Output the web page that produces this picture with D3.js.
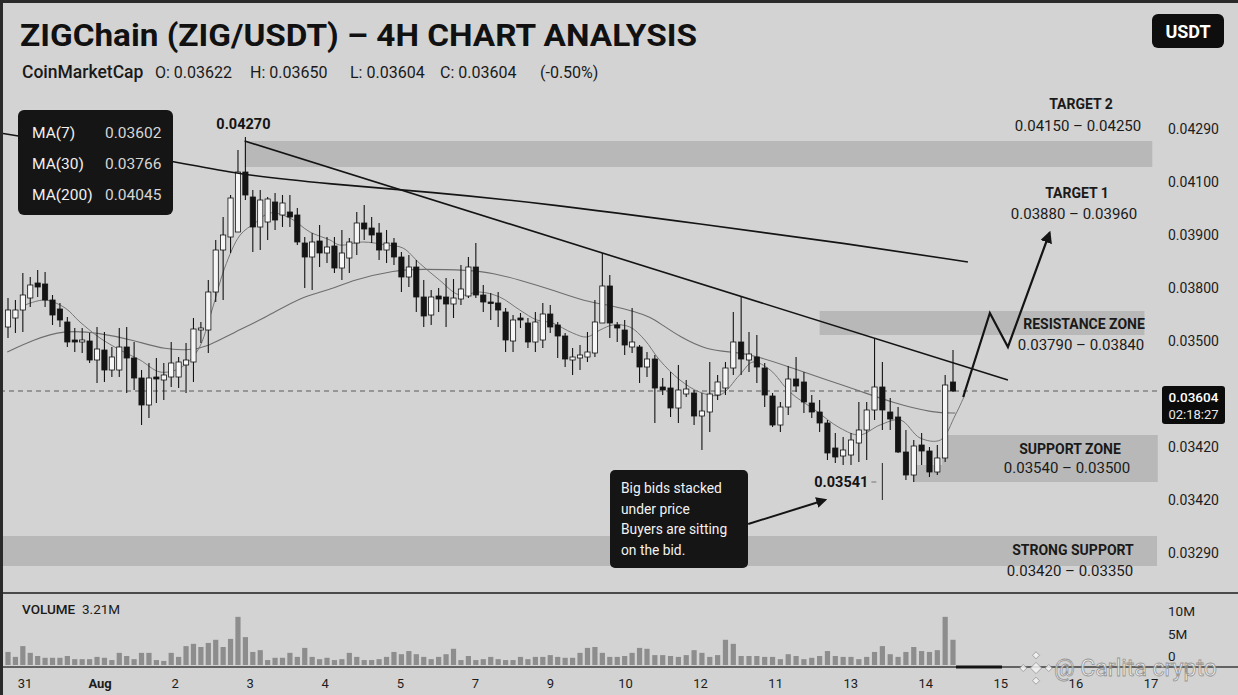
<!DOCTYPE html>
<html>
<head>
<meta charset="utf-8">
<script src="https://cdn.jsdelivr.net/npm/d3@7"></script>
<style>
  html, body { margin: 0; padding: 0; background: #d3d3d3; }
  svg { display: block; font-family: Roboto, "Noto Sans", sans-serif; }
</style>
</head>
<body>
<svg id="chart" width="1238" height="695"></svg>
<script>
// 4H candles, [open, high, low, close]
const ohlc = [
  [0.03732, 0.03790, 0.03710, 0.03766], [0.03750, 0.03786, 0.03720, 0.03766],
  [0.03766, 0.03840, 0.03722, 0.03796], [0.03790, 0.03832, 0.03772, 0.03816],
  [0.03820, 0.03846, 0.03792, 0.03812], [0.03818, 0.03842, 0.03772, 0.03786],
  [0.03786, 0.03796, 0.03736, 0.03756], [0.03768, 0.03780, 0.03732, 0.03746],
  [0.03742, 0.03752, 0.03692, 0.03702], [0.03706, 0.03730, 0.03682, 0.03702],
  [0.03702, 0.03730, 0.03680, 0.03706], [0.03704, 0.03720, 0.03660, 0.03666],
  [0.03666, 0.03732, 0.03620, 0.03688], [0.03686, 0.03722, 0.03622, 0.03646],
  [0.03646, 0.03692, 0.03632, 0.03672], [0.03646, 0.03730, 0.03632, 0.03692],
  [0.03692, 0.03732, 0.03600, 0.03670], [0.03670, 0.03702, 0.03606, 0.03630],
  [0.03630, 0.03646, 0.03536, 0.03576], [0.03576, 0.03660, 0.03550, 0.03630],
  [0.03632, 0.03670, 0.03580, 0.03628], [0.03626, 0.03660, 0.03586, 0.03636],
  [0.03632, 0.03702, 0.03612, 0.03660], [0.03632, 0.03672, 0.03610, 0.03662],
  [0.03656, 0.03700, 0.03600, 0.03666], [0.03662, 0.03750, 0.03622, 0.03728],
  [0.03726, 0.03742, 0.03700, 0.03730], [0.03726, 0.03826, 0.03680, 0.03802],
  [0.03802, 0.03906, 0.03782, 0.03886], [0.03886, 0.03952, 0.03786, 0.03916],
  [0.03912, 0.03996, 0.03880, 0.03990], [0.03922, 0.04086, 0.03922, 0.04042],
  [0.04042, 0.04112, 0.03986, 0.03996], [0.03992, 0.04006, 0.03882, 0.03932],
  [0.03932, 0.04006, 0.03886, 0.03986], [0.03942, 0.03992, 0.03906, 0.03988],
  [0.03982, 0.04000, 0.03926, 0.03946], [0.03956, 0.03996, 0.03932, 0.03980],
  [0.03962, 0.03996, 0.03932, 0.03952], [0.03956, 0.03970, 0.03896, 0.03902],
  [0.03900, 0.03912, 0.03810, 0.03872], [0.03872, 0.03920, 0.03806, 0.03902],
  [0.03904, 0.03936, 0.03852, 0.03880], [0.03880, 0.03912, 0.03860, 0.03892],
  [0.03894, 0.03912, 0.03840, 0.03850], [0.03850, 0.03926, 0.03826, 0.03880],
  [0.03870, 0.03910, 0.03840, 0.03902], [0.03900, 0.03962, 0.03876, 0.03940],
  [0.03940, 0.03976, 0.03906, 0.03928], [0.03930, 0.03952, 0.03900, 0.03916],
  [0.03920, 0.03940, 0.03866, 0.03886], [0.03886, 0.03926, 0.03860, 0.03900],
  [0.03900, 0.03910, 0.03856, 0.03872], [0.03872, 0.03882, 0.03802, 0.03832],
  [0.03832, 0.03876, 0.03812, 0.03852], [0.03852, 0.03866, 0.03762, 0.03792],
  [0.03792, 0.03826, 0.03732, 0.03754], [0.03756, 0.03806, 0.03736, 0.03792],
  [0.03794, 0.03810, 0.03762, 0.03788], [0.03792, 0.03830, 0.03732, 0.03778],
  [0.03778, 0.03828, 0.03750, 0.03790], [0.03788, 0.03856, 0.03776, 0.03808],
  [0.03794, 0.03872, 0.03790, 0.03852], [0.03852, 0.03900, 0.03790, 0.03796],
  [0.03796, 0.03816, 0.03762, 0.03782], [0.03782, 0.03800, 0.03746, 0.03780],
  [0.03780, 0.03802, 0.03732, 0.03766], [0.03762, 0.03770, 0.03682, 0.03706],
  [0.03704, 0.03756, 0.03682, 0.03746], [0.03750, 0.03760, 0.03730, 0.03746],
  [0.03740, 0.03750, 0.03690, 0.03702], [0.03702, 0.03762, 0.03682, 0.03742],
  [0.03706, 0.03780, 0.03690, 0.03758], [0.03758, 0.03776, 0.03720, 0.03732],
  [0.03736, 0.03742, 0.03670, 0.03714], [0.03714, 0.03720, 0.03652, 0.03668],
  [0.03666, 0.03690, 0.03636, 0.03672], [0.03670, 0.03696, 0.03646, 0.03676],
  [0.03672, 0.03722, 0.03662, 0.03682], [0.03680, 0.03786, 0.03672, 0.03742],
  [0.03740, 0.03880, 0.03740, 0.03814], [0.03814, 0.03836, 0.03710, 0.03740],
  [0.03736, 0.03742, 0.03702, 0.03730], [0.03726, 0.03746, 0.03676, 0.03696],
  [0.03692, 0.03770, 0.03680, 0.03702], [0.03692, 0.03696, 0.03620, 0.03652],
  [0.03652, 0.03682, 0.03632, 0.03668], [0.03668, 0.03676, 0.03540, 0.03610],
  [0.03612, 0.03630, 0.03596, 0.03606], [0.03610, 0.03642, 0.03552, 0.03570],
  [0.03570, 0.03656, 0.03540, 0.03606], [0.03598, 0.03626, 0.03592, 0.03608],
  [0.03600, 0.03606, 0.03536, 0.03554], [0.03554, 0.03600, 0.03486, 0.03564],
  [0.03562, 0.03662, 0.03522, 0.03598], [0.03596, 0.03636, 0.03586, 0.03622],
  [0.03610, 0.03662, 0.03596, 0.03650], [0.03650, 0.03762, 0.03636, 0.03702],
  [0.03702, 0.03792, 0.03636, 0.03668], [0.03666, 0.03722, 0.03642, 0.03678],
  [0.03672, 0.03716, 0.03620, 0.03652], [0.03650, 0.03660, 0.03572, 0.03596],
  [0.03594, 0.03600, 0.03532, 0.03536], [0.03536, 0.03582, 0.03522, 0.03572],
  [0.03572, 0.03654, 0.03556, 0.03628], [0.03628, 0.03672, 0.03602, 0.03614],
  [0.03622, 0.03642, 0.03560, 0.03582], [0.03580, 0.03596, 0.03550, 0.03562],
  [0.03562, 0.03586, 0.03522, 0.03540], [0.03540, 0.03546, 0.03466, 0.03480],
  [0.03490, 0.03520, 0.03460, 0.03472], [0.03474, 0.03512, 0.03456, 0.03486],
  [0.03476, 0.03520, 0.03456, 0.03506], [0.03500, 0.03582, 0.03462, 0.03526],
  [0.03526, 0.03582, 0.03466, 0.03566], [0.03566, 0.03710, 0.03546, 0.03612],
  [0.03612, 0.03662, 0.03526, 0.03566], [0.03562, 0.03590, 0.03526, 0.03548],
  [0.03552, 0.03572, 0.03480, 0.03482], [0.03482, 0.03526, 0.03426, 0.03436],
  [0.03436, 0.03506, 0.03422, 0.03494], [0.03496, 0.03520, 0.03456, 0.03484],
  [0.03484, 0.03492, 0.03432, 0.03442], [0.03442, 0.03496, 0.03436, 0.03470],
  [0.03470, 0.03636, 0.03462, 0.03616], [0.03622, 0.03686, 0.03602, 0.03604]
];

// volume per candle, millions
const volumes = [
  2.9, 1.8, 4.2, 2.7, 2.0, 1.6, 1.6, 1.6, 2.0, 1.3,
  1.3, 1.3, 1.8, 1.6, 1.1, 2.7, 2.0, 1.3, 2.7, 2.7,
  1.1, 0.9, 2.7, 1.8, 4.2, 4.7, 4.0, 4.9, 5.6, 4.0,
  5.8, 10.7, 6.2, 2.9, 3.3, 1.1, 1.6, 1.6, 2.7, 1.8,
  3.8, 1.8, 1.3, 1.6, 1.1, 1.3, 2.7, 1.8, 1.1, 1.1,
  1.3, 1.8, 2.9, 2.4, 3.1, 2.4, 1.8, 1.3, 1.8, 2.4,
  3.6, 1.1, 2.0, 1.1, 1.3, 1.8, 1.3, 1.1, 1.1, 1.8,
  1.3, 1.8, 1.8, 2.2, 1.8, 1.6, 1.6, 2.7, 3.8, 4.0,
  2.7, 1.8, 1.8, 2.0, 2.7, 3.8, 3.6, 2.2, 2.2, 2.0,
  1.8, 2.2, 3.3, 2.7, 1.8, 2.2, 5.6, 4.7, 2.0, 2.0,
  2.0, 1.8, 1.8, 1.3, 2.4, 2.0, 1.3, 1.6, 2.0, 3.1,
  2.0, 1.8, 1.8, 1.3, 1.8, 2.9, 4.2, 2.4, 1.8, 2.9,
  4.0, 3.1, 2.9, 3.3, 10.7, 5.6
];

// moving averages, [candle index, price]
const ma7 = [
  [2.3, 0.03776], [5.0, 0.03786], [7.7, 0.03770], [9.7, 0.03742], [12.4, 0.03710],
  [15.1, 0.03686], [17.8, 0.03666], [20.5, 0.03642], [23.2, 0.03650], [25.6, 0.03686],
  [27.5, 0.03766], [29.2, 0.03850], [31.3, 0.03916], [33.3, 0.03940], [35.3, 0.03960],
  [38.0, 0.03950], [40.7, 0.03922], [43.4, 0.03906], [44.7, 0.03896], [47.8, 0.03902],
  [51.0, 0.03896], [53.2, 0.03890], [55.4, 0.03860], [58.1, 0.03826], [60.8, 0.03796],
  [63.5, 0.03802], [66.2, 0.03792], [68.9, 0.03766], [71.2, 0.03746], [73.3, 0.03740],
  [76.0, 0.03720], [77.9, 0.03712], [79.7, 0.03726], [81.4, 0.03736], [83.7, 0.03732],
  [85.7, 0.03706], [87.6, 0.03666], [90.2, 0.03626], [92.7, 0.03602], [95.3, 0.03596],
  [97.8, 0.03636], [99.5, 0.03662], [101.7, 0.03646], [104.2, 0.03602], [107.4, 0.03566],
  [110.6, 0.03530], [113.1, 0.03516], [115.7, 0.03536], [118.3, 0.03546], [120.8, 0.03510],
  [123.4, 0.03506], [125.3, 0.03556], [126.5, 0.03596]
];
const ma30 = [
  [-0.1, 0.03682], [3.4, 0.03706], [7.4, 0.03726], [12.4, 0.03720], [16.8, 0.03706],
  [21.4, 0.03686], [24.5, 0.03686], [26.8, 0.03692], [30.3, 0.03720], [34.9, 0.03752],
  [39.4, 0.03792], [43.4, 0.03806], [46.4, 0.03826], [52.3, 0.03846], [55.4, 0.03848],
  [62.2, 0.03846], [65.3, 0.03840], [68.9, 0.03826], [73.3, 0.03806], [77.9, 0.03782],
  [81.0, 0.03776], [84.6, 0.03762], [86.4, 0.03752], [87.6, 0.03740], [90.2, 0.03712],
  [93.6, 0.03686], [97.0, 0.03682], [99.5, 0.03676], [104.2, 0.03652], [108.9, 0.03626],
  [112.8, 0.03606], [117.4, 0.03580], [122.5, 0.03560], [125.3, 0.03560]
];
const ma200 = [
  [-1.08, 0.04120], [22.5, 0.04064], [31.3, 0.04036], [43.4, 0.04018], [56.8, 0.04002],
  [73.0, 0.03978], [92.8, 0.03938], [111.9, 0.03898], [126.9, 0.03862]
];

// drawn annotations, [candle index, price]
const trendLine = [[31.9, 0.04104], [132.0, 0.03626]];
const projection = [[126.3, 0.03592], [129.7, 0.03760], [132.0, 0.03692], [137.3, 0.03920]];
const bidArrow = [[98.9, 0.03338], [108.7, 0.03386]];
const lowSpike = [116, 0.03460, 0.03386];
const peakIndex = 32;
const lastPrice = 0.03604;

// zone bands: [from index, to index, top price, bottom price]
const zoneBands = [
  [31.9, 150.4, 0.04104, 0.04052],
  [108.0, 149.4, 0.03764, 0.03716],
  [123.6, 151.1, 0.03516, 0.03422],
  [119.9, 123.6, 0.03456, 0.03422],
  [-1.1, 151.0, 0.03314, 0.03254]
];
const zoneTitles = ['TARGET 2', 'TARGET 1', 'RESISTANCE ZONE', 'SUPPORT ZONE', 'STRONG SUPPORT'];
const zoneRanges = ['0.04150 – 0.04250', '0.03880 – 0.03960', '0.03790 – 0.03840',
  '0.03540 – 0.03500', '0.03420 – 0.03350'];

const priceTicks = ['0.04290', '0.04100', '0.03900', '0.03800', '0.03500', null,
  '0.03420', '0.03420', '0.03290'];
const volumeTicks = ['10M', '5M', '0'];
const dayLabels = ['31', 'Aug', '2', '3', '4', '5', '7', '9', '10', '12', '11', '13',
  '14', '15', '16', '17'];

const maLegend = [['MA(7)', '0.03602'], ['MA(30)', '0.03766'], ['MA(200)', '0.04045']];
const header = ['CoinMarketCap', 'O: 0.03622', 'H: 0.03650', 'L: 0.03604', 'C: 0.03604', '(-0.50%)'];
const noteLines = ['Big bids stacked', 'under price', 'Buyers are sitting', 'on the bid.'];

// ---------- scales ----------
// candle spacing in the picture is not quite even, so the index scale is piecewise
const x = d3.scaleLinear().domain([0, 43, 86, ohlc.length - 1]).range([8, 327, 647, 953]);
const y = d3.scaleLinear().domain([0.03206, 0.04186]).range([590, 100]);
const yVol = d3.scaleLinear().domain([0, 10]).range([665, 620]);
const yTick = d3.scalePoint().domain(d3.range(priceTicks.length)).range([129, 553]);
const volTick = d3.scalePoint().domain(d3.range(volumeTicks.length)).range([611, 656]);
const xTick = d3.scalePoint().domain(d3.range(dayLabels.length)).range([25, 1151]);

const svg = d3.select('#chart');
const ink = '#141414';

svg.append('rect').attr('width', 1238).attr('height', 695).attr('fill', '#d3d3d3');

const defs = svg.append('defs');
defs.append('marker')
  .attr('id', 'arrow')
  .attr('viewBox', '0 0 10 10')
  .attr('refX', 8).attr('refY', 5)
  .attr('markerWidth', 5.5).attr('markerHeight', 5.5)
  .attr('orient', 'auto')
  .append('path')
  .attr('d', 'M0,0L10,5L0,10z')
  .attr('fill', ink);

// zones
svg.append('g').selectAll('rect')
  .data(zoneBands)
  .join('rect')
  .attr('x', d => x(d[0]))
  .attr('width', d => x(d[1]) - x(d[0]))
  .attr('y', d => y(d[2]))
  .attr('height', d => y(d[3]) - y(d[2]))
  .attr('fill', '#b8b8b8');

// current price line
svg.append('line')
  .attr('x1', 0).attr('x2', 1160)
  .attr('y1', y(lastPrice)).attr('y2', y(lastPrice))
  .attr('stroke', '#5a5a5a')
  .attr('stroke-width', 1)
  .attr('stroke-dasharray', '5,4');

const line = d3.line().x(d => x(d[0])).y(d => y(d[1]));

// thin moving averages
svg.append('path')
  .attr('d', line.curve(d3.curveBasis)(ma30))
  .attr('fill', 'none').attr('stroke', '#6e6e6e').attr('stroke-width', 1.1);
svg.append('path')
  .attr('d', line.curve(d3.curveCatmullRom)(ma7))
  .attr('fill', 'none').attr('stroke', '#777').attr('stroke-width', 1);

// candles
const candles = svg.append('g').selectAll('g')
  .data(ohlc)
  .join('g');

candles.append('line')
  .attr('x1', (d, i) => x(i)).attr('x2', (d, i) => x(i))
  .attr('y1', d => y(d[1])).attr('y2', d => y(d[2]))
  .attr('stroke', ink).attr('stroke-width', 1.1);

candles.append('rect')
  .attr('x', (d, i) => x(i) - 2.6)
  .attr('width', 5.2)
  .attr('y', d => y(Math.max(d[0], d[3])))
  .attr('height', d => Math.max(1.5, Math.abs(y(d[0]) - y(d[3]))))
  .attr('fill', d => d[3] >= d[0] ? '#f6f6f6' : ink)
  .attr('stroke', ink)
  .attr('stroke-width', 0.8);

// detached low wick
svg.append('line')
  .attr('x1', x(lowSpike[0])).attr('x2', x(lowSpike[0]))
  .attr('y1', y(lowSpike[1])).attr('y2', y(lowSpike[2]))
  .attr('stroke', '#333').attr('stroke-width', 1.1);
svg.append('line')
  .attr('x1', x(lowSpike[0]) - 11).attr('x2', x(lowSpike[0]) - 6)
  .attr('y1', y(lowSpike[2]) - 18).attr('y2', y(lowSpike[2]) - 18)
  .attr('stroke', '#777').attr('stroke-width', 1);
svg.append('text')
  .attr('x', x(lowSpike[0]) - 14)
  .attr('y', y(lowSpike[2]) - 18)
  .attr('text-anchor', 'end').attr('dominant-baseline', 'central')
  .attr('font-size', 14.5).attr('font-weight', 700).attr('fill', ink)
  .text('0.03541');

// long lines
svg.append('path')
  .attr('d', line.curve(d3.curveBasis)(ma200))
  .attr('fill', 'none').attr('stroke', ink).attr('stroke-width', 1.6);
svg.append('path')
  .attr('d', line.curve(d3.curveLinear)(trendLine))
  .attr('fill', 'none').attr('stroke', ink).attr('stroke-width', 1.6);

// projected path
svg.append('path')
  .attr('d', line.curve(d3.curveLinear)(projection))
  .attr('fill', 'none').attr('stroke', ink).attr('stroke-width', 2.2)
  .attr('stroke-linejoin', 'miter')
  .attr('marker-end', 'url(#arrow)');

// peak label
svg.append('text')
  .attr('x', x(peakIndex) - 2)
  .attr('y', y(ohlc[peakIndex][1]) - 13)
  .attr('text-anchor', 'middle').attr('dominant-baseline', 'central')
  .attr('font-size', 14.5).attr('font-weight', 700).attr('fill', ink)
  .text('0.04270');

// MA legend box
const legend = svg.append('g');
legend.append('rect')
  .attr('x', 18).attr('y', 110).attr('width', 155).attr('height', 105)
  .attr('rx', 6).attr('fill', '#151515');
legend.selectAll('text.name')
  .data(maLegend)
  .join('text')
  .attr('class', 'name')
  .attr('x', 32).attr('y', (d, i) => 133 + i * 31)
  .attr('dominant-baseline', 'central')
  .attr('font-size', 15.5).attr('fill', '#f0f0f0')
  .text(d => d[0]);
legend.selectAll('text.val')
  .data(maLegend)
  .join('text')
  .attr('class', 'val')
  .attr('x', 105).attr('y', (d, i) => 133 + i * 31)
  .attr('dominant-baseline', 'central')
  .attr('font-size', 15.5).attr('fill', '#d6d6d6')
  .text(d => d[1]);

// note box with arrow
svg.append('rect')
  .attr('x', 610).attr('y', 470).attr('width', 138).attr('height', 98)
  .attr('rx', 5).attr('fill', '#151515');
svg.append('g').selectAll('text')
  .data(noteLines)
  .join('text')
  .attr('x', 621).attr('y', (d, i) => 488 + i * 20.5)
  .attr('dominant-baseline', 'central')
  .attr('font-size', 13.8).attr('fill', '#f2f2f2')
  .text(d => d);
svg.append('path')
  .attr('d', line.curve(d3.curveLinear)(bidArrow))
  .attr('fill', 'none').attr('stroke', ink).attr('stroke-width', 2)
  .attr('marker-end', 'url(#arrow)');

// zone labels
const titleY = [104, 193, 324, 449, 550];
const rangeY = [126, 214, 345, 468, 571];
const labelX = [1081, 1077, 1084, 1070, 1073];
svg.append('g').selectAll('text')
  .data(zoneTitles)
  .join('text')
  .attr('x', (d, i) => labelX[i]).attr('y', (d, i) => titleY[i])
  .attr('text-anchor', 'middle').attr('dominant-baseline', 'central')
  .attr('font-size', 14).attr('font-weight', 700).attr('fill', '#1a1a1a')
  .text(d => d);
svg.append('g').selectAll('text')
  .data(zoneRanges)
  .join('text')
  .attr('x', (d, i) => labelX[i] - 3).attr('y', (d, i) => rangeY[i])
  .attr('text-anchor', 'middle').attr('dominant-baseline', 'central')
  .attr('font-size', 15).attr('fill', '#1a1a1a')
  .text(d => d);

// right price labels
svg.append('g').selectAll('text')
  .data(priceTicks.map((t, i) => [t, i]).filter(d => d[0]))
  .join('text')
  .attr('x', 1168).attr('y', d => yTick(d[1]))
  .attr('dominant-baseline', 'central')
  .attr('font-size', 14).attr('fill', '#1c1c1c')
  .text(d => d[0]);

// last price tag
const tagY = y(lastPrice);
svg.append('rect')
  .attr('x', 1162).attr('y', tagY - 5).attr('width', 63).attr('height', 38)
  .attr('rx', 3).attr('fill', '#0b0b0b');
svg.append('text')
  .attr('x', 1193.5).attr('y', tagY + 5.5)
  .attr('text-anchor', 'middle').attr('dominant-baseline', 'central')
  .attr('font-size', 13.5).attr('font-weight', 500).attr('fill', '#fff')
  .text('0.03604');
svg.append('text')
  .attr('x', 1193.5).attr('y', tagY + 23)
  .attr('text-anchor', 'middle').attr('dominant-baseline', 'central')
  .attr('font-size', 13).attr('fill', '#e8e8e8')
  .text('02:18:27');

// volume panel
svg.append('line')
  .attr('x1', 0).attr('x2', 1238).attr('y1', 593).attr('y2', 593)
  .attr('stroke', '#4a4a4a').attr('stroke-width', 2);

svg.append('g').selectAll('rect')
  .data(volumes)
  .join('rect')
  .attr('x', (d, i) => x(i) - 2.6)
  .attr('width', 5.2)
  .attr('y', d => yVol(d))
  .attr('height', d => yVol(0) - yVol(d))
  .attr('fill', '#8d8d8d');

svg.append('line')
  .attr('x1', 0).attr('x2', 1238).attr('y1', yVol(0) + 2).attr('y2', yVol(0) + 2)
  .attr('stroke', '#3c3c3c').attr('stroke-width', 1.3);
svg.append('line')
  .attr('x1', x(ohlc.length - 1) + 3).attr('x2', 1002).attr('y1', yVol(0) + 2).attr('y2', yVol(0) + 2)
  .attr('stroke', ink).attr('stroke-width', 3);

svg.append('text')
  .attr('x', 22).attr('y', 609).attr('dominant-baseline', 'central')
  .attr('font-size', 13.5).attr('font-weight', 500).attr('fill', '#1a1a1a')
  .text('VOLUME');
svg.append('text')
  .attr('x', 82).attr('y', 609).attr('dominant-baseline', 'central')
  .attr('font-size', 13.5).attr('fill', '#1a1a1a')
  .text('3.21M');

svg.append('g').selectAll('text')
  .data(volumeTicks)
  .join('text')
  .attr('x', 1168).attr('y', (d, i) => volTick(i))
  .attr('dominant-baseline', 'central')
  .attr('font-size', 13.5).attr('fill', '#1c1c1c')
  .text(d => d);

// day axis
svg.append('g').selectAll('text')
  .data(dayLabels)
  .join('text')
  .attr('x', (d, i) => xTick(i)).attr('y', 683)
  .attr('text-anchor', 'middle').attr('dominant-baseline', 'central')
  .attr('font-size', 13).attr('font-weight', d => d === 'Aug' ? 700 : 400)
  .attr('fill', '#1c1c1c')
  .text(d => d);

// header
svg.append('text')
  .attr('x', 20).attr('y', 35)
  .attr('dominant-baseline', 'central')
  .attr('font-size', 31).attr('font-weight', 700).attr('fill', '#111')
  .attr('textLength', 677).attr('lengthAdjust', 'spacingAndGlyphs')
  .text('ZIGChain (ZIG/USDT) – 4H CHART ANALYSIS');

const headerX = [22, 155, 250, 350, 440, 540];
svg.append('g').selectAll('text')
  .data(header)
  .join('text')
  .attr('x', (d, i) => headerX[i]).attr('y', 72)
  .attr('dominant-baseline', 'central')
  .attr('font-size', (d, i) => i === 0 ? 17.5 : 16).attr('font-weight', (d, i) => i === 0 ? 500 : 400)
  .attr('fill', '#1a1a1a')
  .text(d => d);

svg.append('rect')
  .attr('x', 1152).attr('y', 14).attr('width', 72).attr('height', 34)
  .attr('rx', 6).attr('fill', '#0e0e0e');
svg.append('text')
  .attr('x', 1188).attr('y', 31.5)
  .attr('text-anchor', 'middle').attr('dominant-baseline', 'central')
  .attr('font-size', 18).attr('font-weight', 700).attr('fill', '#fff')
  .text('USDT');

// watermark
const mark = svg.append('g').attr('opacity', 0.85);
const logo = mark.append('g').attr('transform', 'translate(1036,668) rotate(45)');
[[0, 0, 8], [-9, -9, 5], [9, 9, 5], [-9, 9, 5], [9, -9, 5]].forEach(s => {
  logo.append('rect')
    .attr('x', s[0] - s[2] / 2).attr('y', s[1] - s[2] / 2)
    .attr('width', s[2]).attr('height', s[2])
    .attr('fill', '#f4f4f4').attr('stroke', '#8f8f8f').attr('stroke-width', 0.8);
});
mark.append('text')
  .attr('x', 1054).attr('y', 668)
  .attr('dominant-baseline', 'central')
  .attr('font-size', 23).attr('fill', '#f4f4f4')
  .attr('stroke', '#8a8a8a').attr('stroke-width', 0.8)
  .text('@ Carlita crypto');

// frame edges
svg.append('line').attr('x1', 1.5).attr('x2', 1.5).attr('y1', 0).attr('y2', 695)
  .attr('stroke', '#2a2a2a').attr('stroke-width', 3);
svg.append('line').attr('x1', 0).attr('x2', 1238).attr('y1', 1.5).attr('y2', 1.5)
  .attr('stroke', '#2a2a2a').attr('stroke-width', 3);
</script>
</body>
</html>
